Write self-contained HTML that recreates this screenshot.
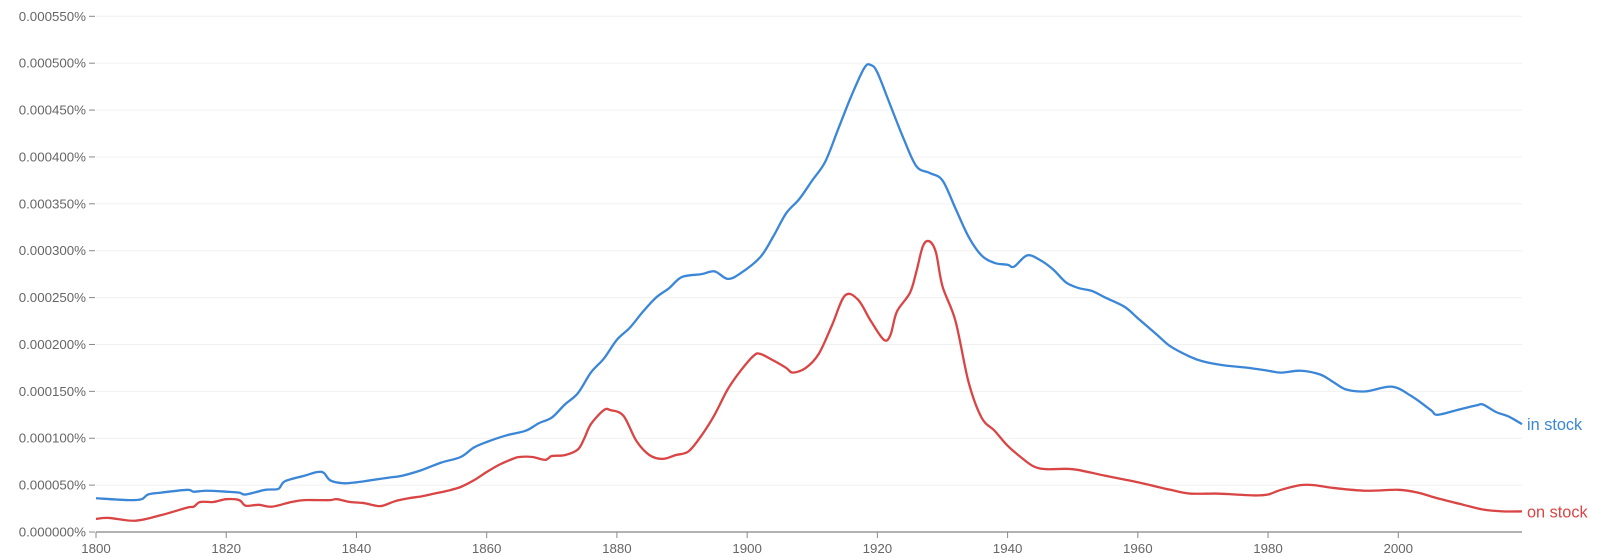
<!DOCTYPE html>
<html><head><meta charset="utf-8"><style>
body{margin:0;background:#fff;font-family:"Liberation Sans",sans-serif;}
svg{display:block}
</style></head><body>
<svg id="chart" width="1602" height="558"></svg>
<script>
const inYears=[1800,1805,1807,1808,1810,1814,1815,1817,1820,1822,1823,1826,1828,1829,1832,1834,1835,1836,1838,1840,1842,1845,1847,1850,1853,1856,1858,1860,1863,1866,1868,1870,1872,1874,1876,1878,1880,1882,1884,1886,1888,1890,1893,1895,1897,1899,1902,1904,1906,1908,1910,1912,1914,1916,1918,1919,1920,1922,1924,1926,1928,1930,1932,1934,1936,1938,1940,1941,1943,1945,1947,1949,1951,1953,1955,1958,1960,1963,1965,1968,1970,1973,1977,1980,1982,1985,1988,1990,1992,1995,1999,2002,2005,2006,2009,2012,2013,2015,2017,2019];
const inVals=[36,34,35,40,42,45,43,44,43,42,40,45,46,54,60,64,63,55,52,53,55,58,60,66,74,80,90,96,103,108,116,122,136,148,170,185,205,218,235,250,260,272,275,278,270,276,293,315,340,355,375,395,430,465,495,498,490,455,420,390,383,375,345,315,295,287,285,283,295,290,280,266,260,257,250,240,228,210,198,187,182,178,175,172,170,172,168,160,152,150,155,145,130,125,130,135,136,128,123,115];
const onYears=[1800,1802,1806,1810,1814,1815,1816,1818,1820,1822,1823,1825,1827,1830,1832,1834,1836,1837,1839,1841,1843,1844,1846,1848,1850,1852,1854,1856,1858,1860,1862,1864,1865,1867,1869,1870,1872,1874,1875,1876,1878,1879,1881,1883,1885,1887,1889,1891,1893,1895,1897,1899,1901,1902,1904,1906,1907,1909,1911,1913,1915,1917,1919,1921,1922,1923,1925,1926,1927,1928,1929,1930,1932,1934,1936,1938,1940,1942,1944,1946,1950,1955,1960,1965,1968,1972,1975,1978,1980,1982,1985,1987,1990,1995,2000,2003,2006,2010,2013,2016,2019];
const onVals=[14,15,12,18,26,27,32,32,35,34,28,29,27,32,34,34,34,35,32,31,28,28,33,36,38,41,44,48,55,64,72,78,80,80,77,81,82,88,100,115,130,130,124,97,82,78,82,86,103,125,152,172,188,190,183,175,170,175,190,220,252,248,225,205,210,235,255,278,305,310,298,262,225,160,122,108,92,80,70,67,67,60,53,45,41,41,40,39,40,45,50,50,47,44,45,42,36,29,24,22,22];
const yTicks=[0,50,100,150,200,250,300,350,400,450,500,550];
const xTicks=[1800,1820,1840,1860,1880,1900,1920,1940,1960,1980,2000];
const svg=document.getElementById('chart');const NS='http://www.w3.org/2000/svg';
const X0=96,X1=1522,Y0=532,Y1=16.3;
const X=y=>X0+(y-1800)*((X1-X0)/219);
const Y=v=>Y0-v*((Y0-Y1)/550);
function mk(t,a,p){const e=document.createElementNS(NS,t);for(const k in a)e.setAttribute(k,a[k]);(p||svg).appendChild(e);return e;}
yTicks.forEach(t=>{
 if(t>0){const g=mk('line',{x1:X0,x2:X1,y1:Y(t),y2:Y(t),stroke:'#f0f0f0'});
 
 }
 mk('line',{x1:89,x2:95,y1:Y(t),y2:Y(t),stroke:'#888'});
 const l=mk('text',{x:86,y:Y(t)+4.5,'text-anchor':'end','font-size':13.3,fill:'#666'});
 l.textContent=(t/1e6).toFixed(6)+'%';
 
 
});
mk('line',{x1:X0,x2:X1,y1:Y0,y2:Y0,stroke:'#999','stroke-width':1.5});
xTicks.forEach(t=>{
 mk('line',{x1:X(t),x2:X(t),y1:Y0,y2:Y0+6,stroke:'#888'});
 const l=mk('text',{x:X(t),y:Y0+21,'text-anchor':'middle','font-size':13.3,fill:'#666'});
 l.textContent=t;
 
 
});
function path(xs,vs){const p=xs.map((x,i)=>[X(x),Y(vs[i])]);let d='M'+p[0][0]+','+p[0][1];
 for(let i=0;i<p.length-1;i++){const a=p[i-1]||p[i],b=p[i],c=p[i+1],e=p[i+2]||c;
 d+=` C${b[0]+(c[0]-a[0])/6},${b[1]+(c[1]-a[1])/6} ${c[0]-(e[0]-b[0])/6},${c[1]-(e[1]-b[1])/6} ${c[0]},${c[1]}`;}return d;}
const s1=mk('path',{d:path(inYears,inVals),fill:'none',stroke:'#3b86d6','stroke-width':2.3});


const s2=mk('path',{d:path(onYears,onVals),fill:'none',stroke:'#d94545','stroke-width':2.3});


const l1=mk('text',{x:X1+5,y:Y(inVals[inVals.length-1])+6,'font-size':16.3,fill:'#3b86d6'});l1.textContent='in stock';


const l2=mk('text',{x:X1+5,y:Y(onVals[onVals.length-1])+6,'font-size':16.3,fill:'#d94545'});l2.textContent='on stock';


</script>
</body></html>
